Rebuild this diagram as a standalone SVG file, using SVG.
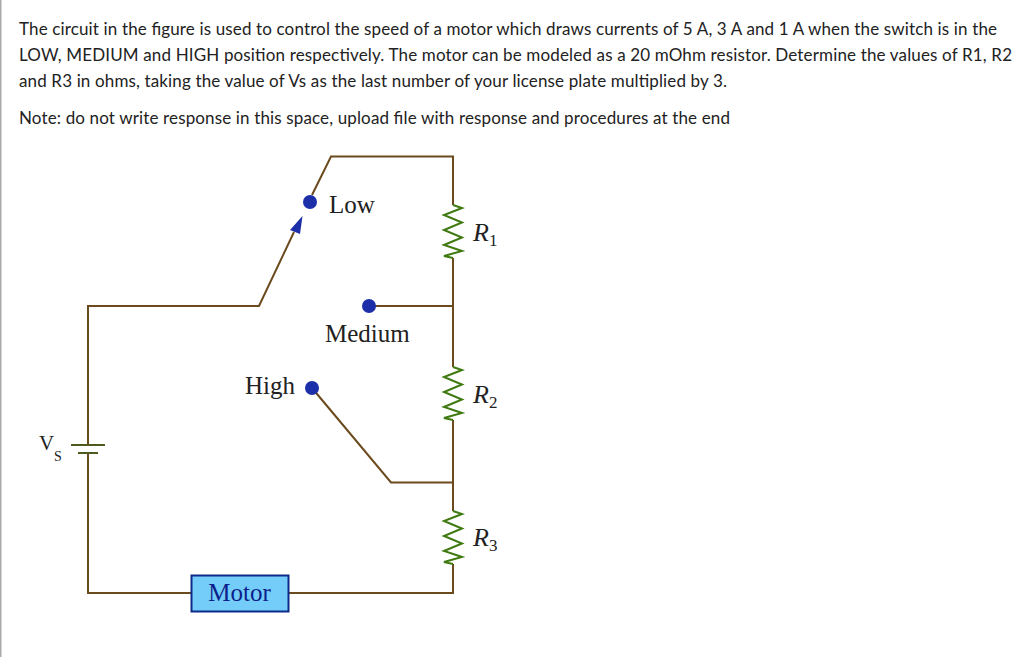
<svg xmlns="http://www.w3.org/2000/svg" width="1024" height="657" viewBox="0 0 1024 657">
<style>
.t{font-family:Lato,"Liberation Sans",sans-serif;font-size:17px;fill:#222}
.l{font-family:"Liberation Serif",serif;font-size:25px;fill:#222}
.r{font-family:"Liberation Serif",serif;font-size:26px;font-style:italic;fill:#222}
.s{font-family:"Liberation Serif",serif;font-size:17px;fill:#222}
.w{fill:none;stroke:#6b4a1e;stroke-width:2}
.z{fill:none;stroke:#3f7a10;stroke-width:2}
.b{fill:none;stroke:#4d5a1e;stroke-width:2}
.d{fill:#1c2fa8}
</style>
<rect width="1024" height="657" fill="#fff"/>
<rect x="0" y="0" width="1.500" height="657" fill="#aaa"/>
<g id="question">
<text class="t" x="19" y="35" textLength="978">The circuit in the figure is used to control the speed of a motor which draws currents of 5 A, 3 A and 1 A when the switch is in the</text>
<text class="t" x="19" y="61" textLength="993">LOW, MEDIUM and HIGH position respectively. The motor can be modeled as a 20 mOhm resistor. Determine the values of R1, R2</text>
<text class="t" x="19" y="87" textLength="708">and R3 in ohms, taking the value of Vs as the last number of your license plate multiplied by 3.</text>
<text class="t" x="19" y="124" textLength="711">Note: do not write response in this space, upload file with response and procedures at the end</text>
</g>
<g id="connectors">
<path class="w" d="M312 195L331 156.500H453V205"/>
<path class="w" d="M294 232L259 306H88V445"/>
<path class="w" d="M88 453V593H191"/>
<path class="w" d="M289 593H453V564"/>
<path class="w" d="M453 258V367"/>
<path class="w" d="M453 420V511"/>
<path class="w" d="M369 306H453"/>
<path class="w" d="M312 388L391 482.500H453"/>
</g>
<g id="R1"><path class="z" d="M453 205L462 208L444 215L462 222.500L444 230L462 237.500L444 245L462 251L444 256L453 258"/><text class="r" x="473" y="241">R</text><text class="s" x="489" y="246">1</text></g>
<g id="R2"><path class="z" d="M453 367L462 370L444 377L462 384.500L444 392L462 399.500L444 407L462 413L444 418L453 420"/><text class="r" x="473" y="403">R</text><text class="s" x="489" y="408">2</text></g>
<g id="R3"><path class="z" d="M453 511L462 514L444 521L462 528.500L444 536L462 543.500L444 551L462 557L444 562L453 564"/><text class="r" x="473" y="546">R</text><text class="s" x="489" y="551">3</text></g>
<g id="Vs"><path class="b" d="M71 445H105M78 453H98"/><text class="l" x="39" y="450" style="font-size:21px">V</text><text class="s" x="54" y="461" style="font-size:14px">S</text></g>
<g id="Motor"><rect x="191.500" y="575.500" width="97" height="36" fill="#74cdf8" stroke="#0d2a8a" stroke-width="2"/><text class="l" x="239.500" y="601" text-anchor="middle" style="fill:#0d1f8a">Motor</text></g>
<g id="Low"><circle class="d" cx="310" cy="202" r="7"/><text class="l" x="329" y="213">Low</text></g>
<g id="Medium"><circle class="d" cx="369" cy="306" r="7"/><text class="l" x="325" y="342">Medium</text></g>
<g id="High"><circle class="d" cx="312" cy="388" r="7"/><text class="l" x="245" y="394">High</text></g>
<g id="switch-arrow"><path class="d" d="M302.500 216L290 230L300 234Z"/></g>
</svg>
